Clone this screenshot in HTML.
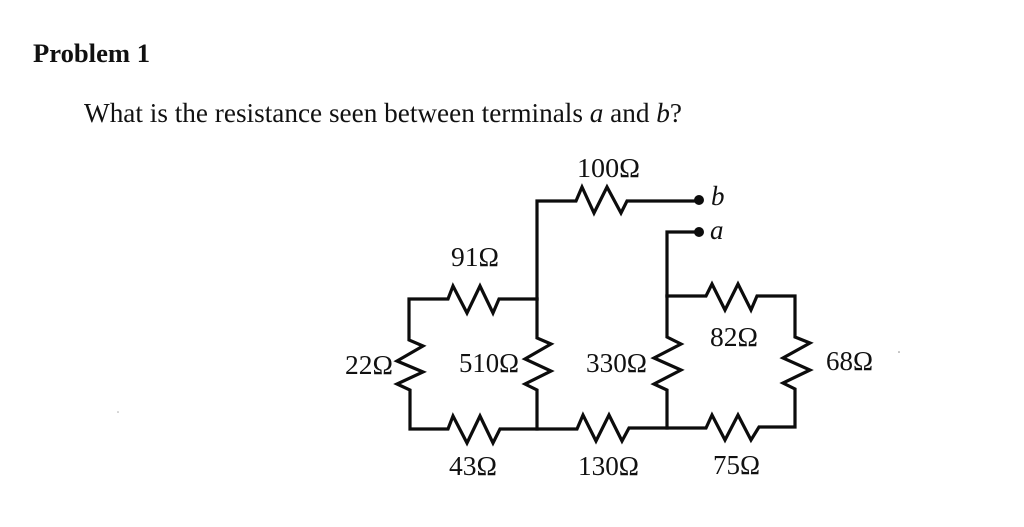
<!DOCTYPE html>
<html>
<head>
<meta charset="utf-8">
<style>
html,body{margin:0;padding:0;background:#fff;width:1024px;height:527px;overflow:hidden}
svg{display:block}
text{font-family:"Liberation Serif",serif;fill:#111}
.l{font-size:27px}
.w{fill:none;stroke:#0c0c0c;stroke-width:3.2;stroke-linejoin:miter;stroke-linecap:square}
</style>
</head>
<body>
<svg width="1024" height="527" viewBox="0 0 1024 527" xmlns="http://www.w3.org/2000/svg">
<g style="filter:blur(0.35px)">
<text x="33" y="62" font-size="26" font-weight="bold" textLength="117" lengthAdjust="spacingAndGlyphs">Problem 1</text>
<text x="84" y="122" font-size="27" textLength="598" lengthAdjust="spacingAndGlyphs">What is the resistance seen between terminals <tspan font-style="italic">a</tspan> and <tspan font-style="italic">b</tspan>?</text>

<path class="w" d="M537 299V201H576L582 187L594 213L607 187L621 213L627 201H699"/>
<path class="w" d="M699 232H667V296"/>
<circle cx="699" cy="200" r="5" fill="#0c0c0c"/>
<circle cx="699" cy="232" r="5" fill="#0c0c0c"/>

<path class="w" d="M537 299H499L493 313L480 286L467 313L453 286L448 299H409V340L423 346L397 361L423 372L397 384L410 390V429H448L453 416L467 443L480 416L493 443L500 429H577L583 415L596 441L609 415L622 441L629 428H706L712 415L725 440L738 415L751 440L759 427H795V389L783 383L810 370L783 358L810 343L795 337V296H757L751 310L738 284L725 310L712 284L706 296H667"/>
<path class="w" d="M537 299V338L551 344L525 359L551 371L525 384L537 390V429"/>
<path class="w" d="M667 296V337L681 344L654 358L681 370L654 384L667 390V428"/>

<circle cx="899" cy="352" r="0.8" fill="#888"/>
<circle cx="118" cy="412" r="0.8" fill="#aaa"/>

<text class="l" x="577" y="177" textLength="63" lengthAdjust="spacingAndGlyphs">100Ω</text>
<text class="l" x="451" y="266" textLength="48" lengthAdjust="spacingAndGlyphs">91Ω</text>
<text class="l" x="345" y="374" textLength="48" lengthAdjust="spacingAndGlyphs">22Ω</text>
<text class="l" x="459" y="372" textLength="60" lengthAdjust="spacingAndGlyphs">510Ω</text>
<text class="l" x="586" y="372" textLength="61" lengthAdjust="spacingAndGlyphs">330Ω</text>
<text class="l" x="710" y="346" textLength="48" lengthAdjust="spacingAndGlyphs">82Ω</text>
<text class="l" x="826" y="370" textLength="47" lengthAdjust="spacingAndGlyphs">68Ω</text>
<text class="l" x="449" y="475" textLength="48" lengthAdjust="spacingAndGlyphs">43Ω</text>
<text class="l" x="578" y="475" textLength="61" lengthAdjust="spacingAndGlyphs">130Ω</text>
<text class="l" x="713" y="474" textLength="47" lengthAdjust="spacingAndGlyphs">75Ω</text>
<text class="l" x="711" y="205" font-style="italic">b</text>
<text class="l" x="710" y="239" font-style="italic">a</text>
</g>
</svg>
</body>
</html>
